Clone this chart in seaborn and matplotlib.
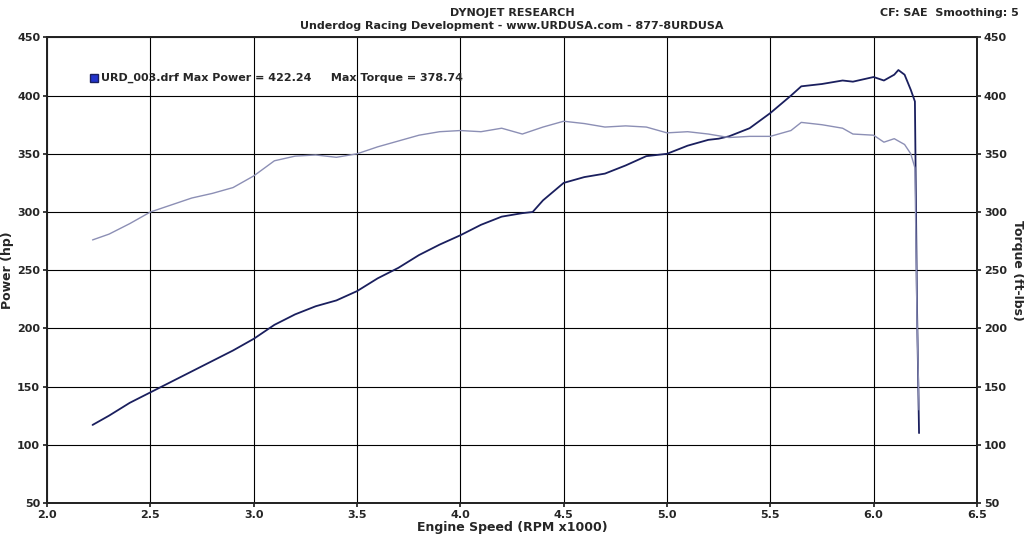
import matplotlib
matplotlib.use("Agg")
import matplotlib.pyplot as plt
import seaborn as sns
import pandas as pd

rpm_p = [2.22,2.3,2.4,2.5,2.6,2.7,2.8,2.9,3.0,3.1,3.2,3.3,3.4,3.5,3.6,3.7,3.8,3.9,4.0,4.1,4.2,4.3,4.35,4.4,4.5,4.6,4.7,4.8,4.9,5.0,5.1,5.2,5.25,5.3,5.4,5.5,5.6,5.65,5.75,5.85,5.9,6.0,6.05,6.1,6.12,6.15,6.18,6.2,6.21,6.22]
power = [117,125,136,145,154,163,172,181,191,203,212,219,224,232,243,252,263,272,280,289,296,299,300,310,325,330,333,340,348,350,357,362,363,365,372,385,400,408,410,413,412,416,413,418,422,418,405,395,220,110]
rpm_t = [2.22,2.3,2.4,2.5,2.6,2.7,2.8,2.9,3.0,3.1,3.2,3.3,3.4,3.5,3.6,3.7,3.8,3.9,4.0,4.1,4.2,4.3,4.4,4.5,4.6,4.7,4.8,4.9,5.0,5.1,5.2,5.3,5.4,5.5,5.6,5.65,5.75,5.85,5.9,6.0,6.05,6.1,6.15,6.18,6.2,6.21,6.22]
torque = [276,281,290,300,306,312,316,321,331,344,348,349,347,350,356,361,366,369,370,369,372,367,373,378,376,373,374,373,368,369,367,364,365,365,370,377,375,372,367,366,360,363,358,350,338,210,130]

sns.set_theme(style="white")
plt.rcParams['font.family'] = ['DejaVu Sans']
fig = plt.figure(figsize=(10.24,5.35), dpi=100)
ax = fig.add_axes([0.046, 0.06, 0.908, 0.87])
ax.set_facecolor("white")
sns.lineplot(x=rpm_p, y=power, ax=ax, color="#1a1f5e", lw=1.3)
sns.lineplot(x=rpm_t, y=torque, ax=ax, color="#8c8fb5", lw=1.0)
ax.set_xlim(2.0,6.5); ax.set_ylim(50,450)
ax.set_xticks([2.0+0.5*i for i in range(10)])
ax.set_xticklabels([f"{2.0+0.5*i:.1f}" for i in range(10)], fontsize=8, fontweight="bold")
ax.set_yticks(range(50,451,50))
ax.set_yticklabels([str(v) for v in range(50,451,50)], fontsize=8, fontweight="bold")
ax.grid(True, color="black", lw=0.8)
for s in ax.spines.values(): s.set_color("black")
ax.tick_params(length=3, pad=2, direction="out", left=True, bottom=True)
ax2 = ax.twinx(); ax2.set_ylim(50,450); ax2.set_yticks(range(50,451,50))
ax2.set_yticklabels([str(v) for v in range(50,451,50)], fontsize=8, fontweight="bold")
ax2.tick_params(length=3, pad=2, right=True)
ax.set_xlabel("Engine Speed (RPM x1000)", fontsize=9, fontweight="bold", labelpad=1)
ax.set_ylabel("Power (hp)", fontsize=9, fontweight="bold", labelpad=2)
ax2.set_ylabel("Torque (ft-lbs)", fontsize=9, fontweight="bold", rotation=270, labelpad=12)
fig.text(0.5, 0.985, "DYNOJET RESEARCH", ha="center", va="top", fontsize=8, fontweight="bold")
fig.text(0.5, 0.96, "Underdog Racing Development - www.URDUSA.com - 877-8URDUSA", ha="center", va="top", fontsize=8, fontweight="bold")
fig.text(0.995, 0.985, "CF: SAE  Smoothing: 5", ha="right", va="top", fontsize=8, fontweight="bold")
ax.plot([2.225],[415], marker="s", color="#2233cc", ms=6, mec="#1a1f5e", ls="none")
ax.text(2.26, 415, "URD_003.drf Max Power = 422.24     Max Torque = 378.74", va="center", fontsize=8, fontweight="bold")
fig.savefig("out.png", dpi=100)
